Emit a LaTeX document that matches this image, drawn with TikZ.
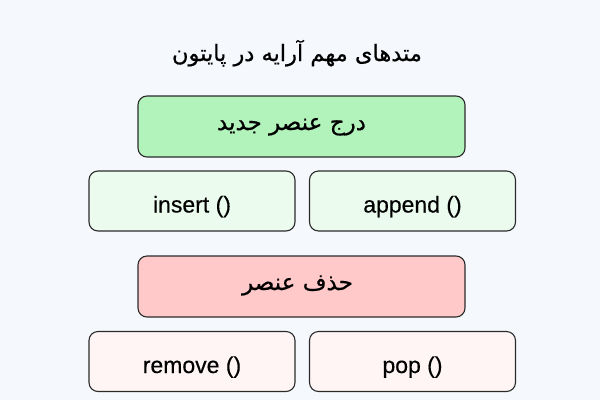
\documentclass[tikz,border=0pt]{standalone}
\usepackage{fontspec}
\setmainfont{Liberation Sans}[FakeBold=0.4]
\newfontfamily\arabicfont[Script=Arabic,FakeBold=0.6]{DejaVu Sans}
\TeXXeTstate=1
\definecolor{bgc}{HTML}{F5F9FE}
\definecolor{greenA}{HTML}{B2F2BB}
\definecolor{greenB}{HTML}{EBFBEE}
\definecolor{redA}{HTML}{FFC9C9}
\definecolor{redB}{HTML}{FFF5F5}
\definecolor{edge}{HTML}{2B2B2B}
\begin{document}
\begin{tikzpicture}[x=1pt,y=-1pt,
  box/.style={draw=edge,line width=1.1pt,rounded corners=9pt,font=\fontsize{23}{26}\selectfont,text=black},
  big/.style={box,minimum width=327pt,minimum height=61pt,text height=16pt,text depth=9pt},
  small/.style={box,minimum width=206pt,minimum height=60pt,text height=26pt,text depth=3pt}]
\fill[bgc] (0,0) rectangle (600,400);
\useasboundingbox (0,0) rectangle (600,400);
\node[anchor=base] (title) at (297,61) {\fontsize{22.5}{26}\selectfont\arabicfont\beginR متدهای مهم آرایه در پایتون\endR};
\node[big,fill=greenA] (add) at (301.5,126.5) {\arabicfont\beginR درج عنصر جدید\endR\hspace*{20pt}};
\node[small,fill=greenB] (insert) at (192,201) {insert ()};
\node[small,fill=greenB] (append) at (412.5,201) {append ()};
\node[big,fill=redA] (del) at (301.5,286.5) {\arabicfont\beginR حذف عنصر\endR\hspace*{8pt}};
\node[small,fill=redB] (remove) at (192,361.5) {remove ()};
\node[small,fill=redB] (pop) at (412.5,361.5) {pop ()};
\end{tikzpicture}
\end{document}
